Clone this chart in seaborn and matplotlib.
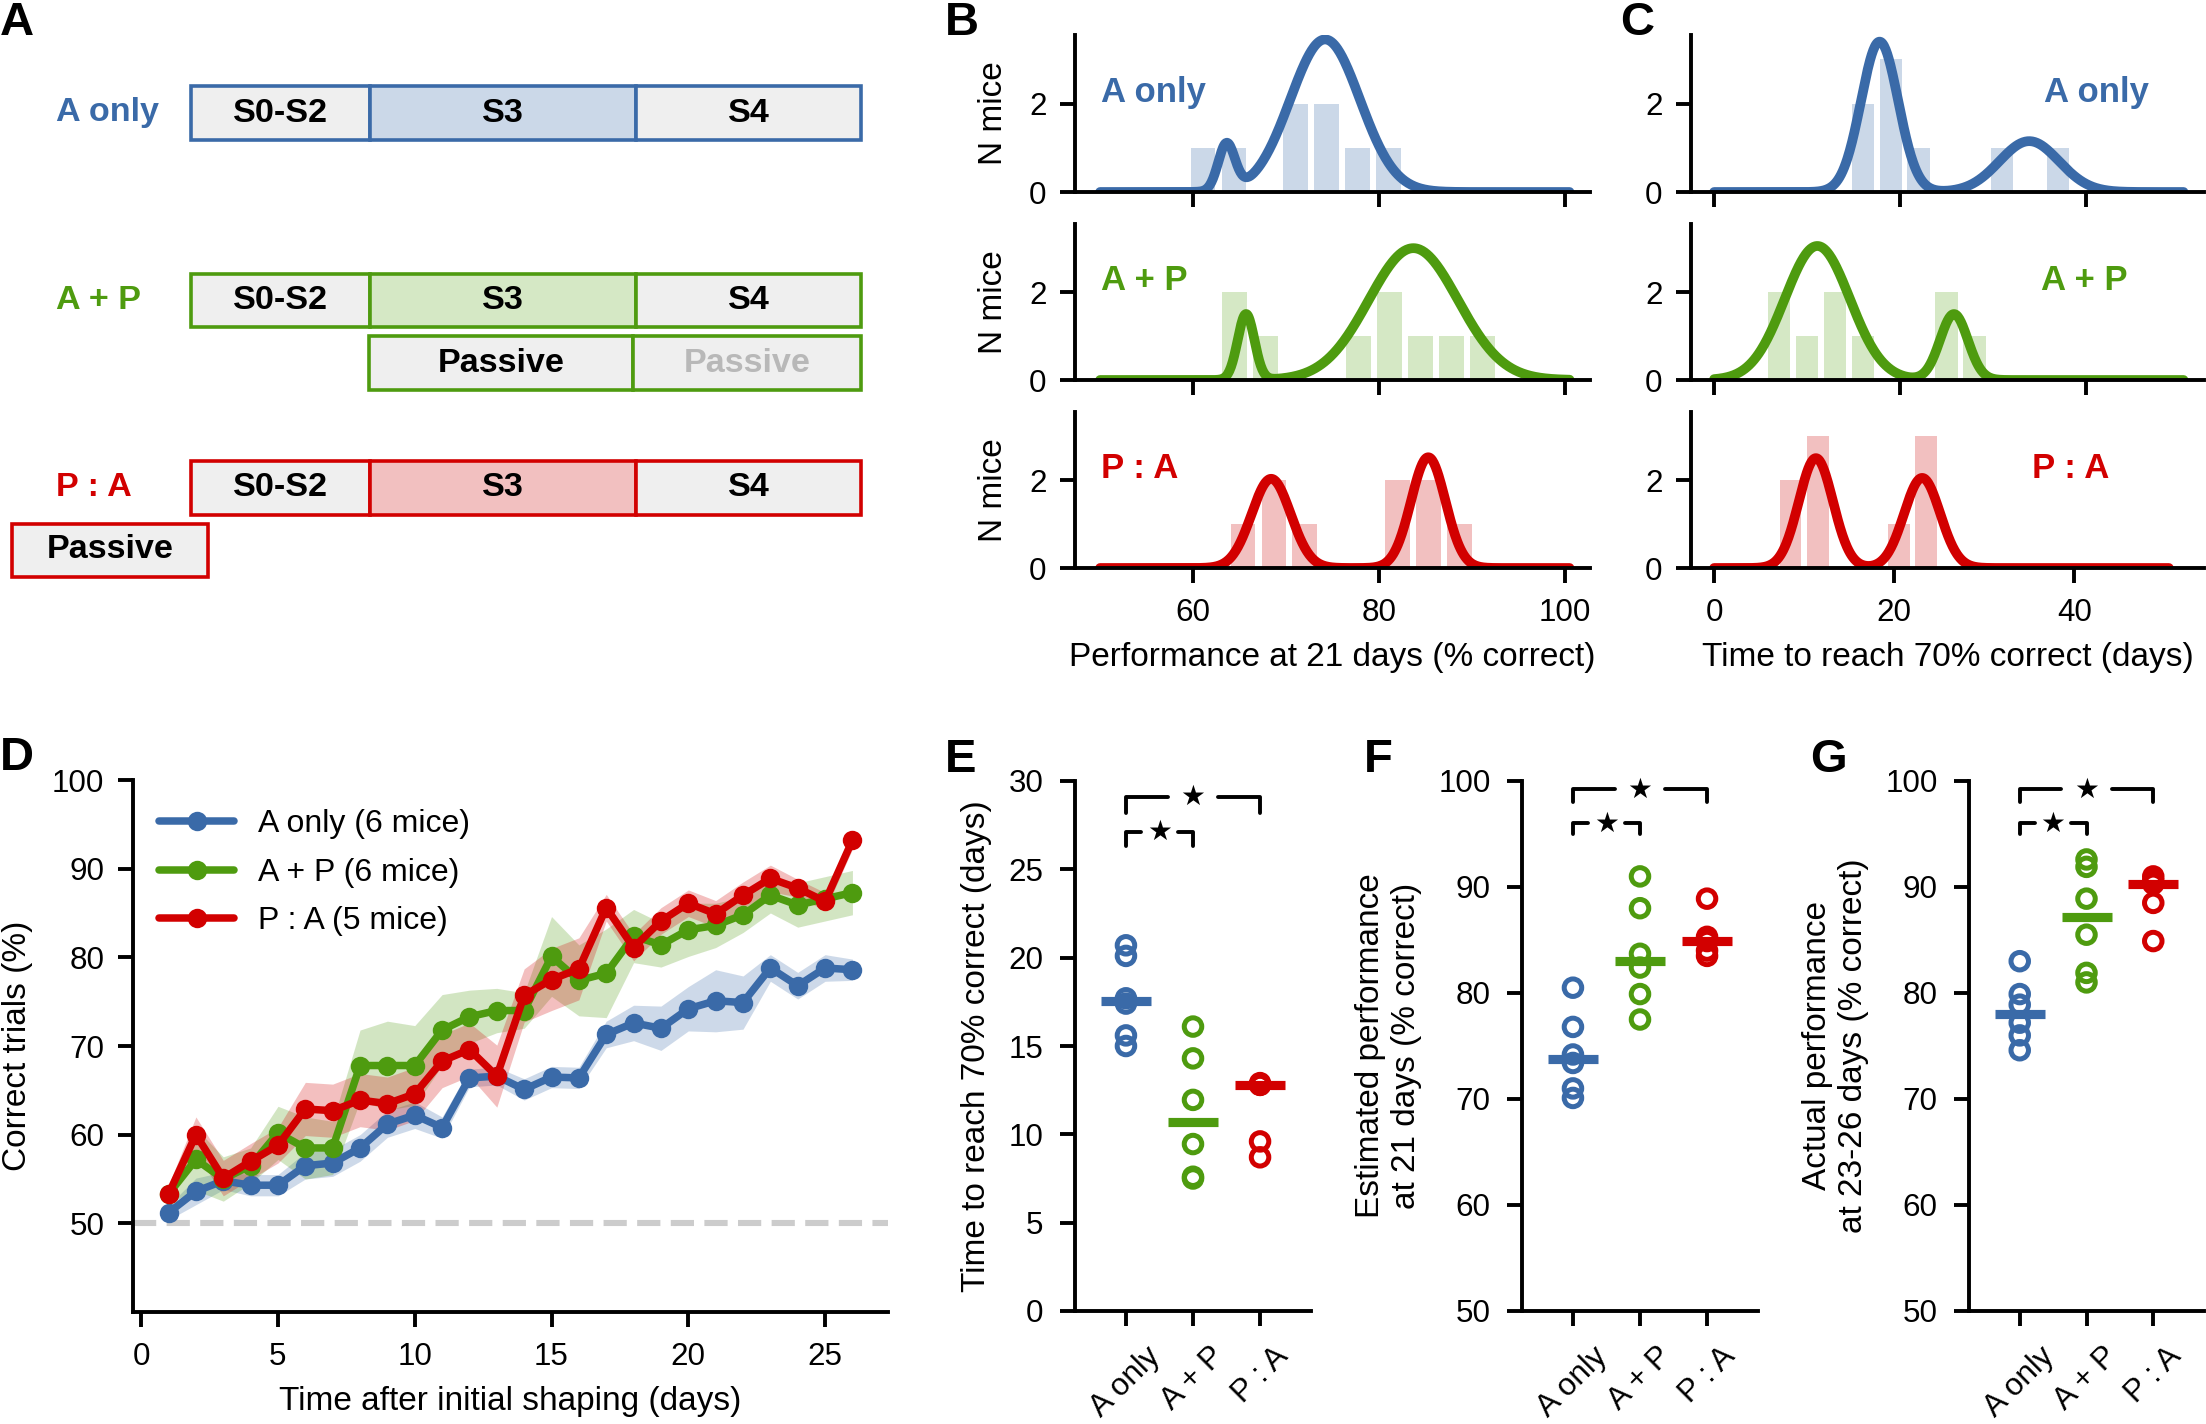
import numpy as np
import pandas as pd
import matplotlib
matplotlib.use("Agg")
import matplotlib.pyplot as plt
import seaborn as sns
from matplotlib.patches import Rectangle

W, H, DPI = 2206, 1424, 200

groups = ["A only", "A + P", "P : A"]
colors = ["#3a6aa8", "#4e9b0f", "#d20000"]
light = ["#cbd8e8", "#d5e8c5", "#f2c0c0"]

# B: performance at 21 days -- histogram counts (bin width 3.33) and fitted two-gaussian curves
perf_bin_start = [59.4, 62.8, 63.7]
perf_counts = [[1, 1, 0, 2, 2, 1, 1],
               [2, 1, 0, 0, 1, 2, 1, 1, 1],
               [1, 2, 1, 0, 0, 2, 2, 1]]
perf_peak_x = [[63.6, 74.2], [65.7, 83.7], [68.4, 85.3]]
perf_peak_h = [[1.05, 3.45], [1.5, 3.0], [2.03, 2.52]]
perf_peak_sd = [[0.9, 3.75], [0.9, 4.8], [2.1, 1.85]]

# C: time to reach 70% correct -- histogram counts (bin width 3) and fitted curves
time_bin_start = [14.5, 5.5, 7.0]
time_counts = [[2, 3, 1, 0, 0, 1, 0, 1],
               [2, 1, 2, 1, 0, 0, 2, 1],
               [2, 3, 0, 0, 1, 3]]
time_peak_x = [[17.8, 33.9], [11.1, 25.8], [11.3, 23.1]]
time_peak_h = [[3.4, 1.15], [3.05, 1.5], [2.5, 2.05]]
time_peak_sd = [[2.0, 3.2], [3.5, 1.5], [1.9, 2.0]]

# D: learning curves (mean and sem per day)
days = list(range(1, 27))
a_only_mean = [51.2, 53.6, 54.8, 54.3, 54.3, 56.5, 56.8, 58.5, 61.2, 62.2, 60.8, 66.4, 66.6,
               65.1, 66.5, 66.4, 71.3, 72.6, 72.0, 74.2, 75.1, 74.9, 78.8, 76.8, 78.8, 78.6]
a_only_sem = [0.8, 1.5, 1.0, 1.2, 1.2, 1.5, 1.5, 1.5, 1.5, 1.5, 1.2, 1.0, 1.0,
              1.2, 1.2, 1.2, 1.5, 2.0, 2.5, 2.5, 3.5, 3.0, 1.5, 1.5, 1.5, 1.2]
a_p_mean = [53.3, 57.2, 55.0, 56.5, 60.2, 58.5, 58.5, 67.8, 67.8, 67.8, 71.8, 73.3, 74.0,
            74.0, 80.1, 77.4, 78.2, 82.4, 81.4, 83.1, 83.6, 84.8, 87.0, 85.9, 86.6, 87.3]
a_p_sem = [1.0, 3.5, 2.5, 2.0, 3.0, 3.5, 3.0, 4.0, 5.0, 4.5, 4.0, 3.0, 2.5,
           2.0, 4.5, 4.0, 5.0, 3.0, 2.5, 3.0, 2.5, 2.0, 2.0, 2.5, 2.5, 2.5]
p_a_mean = [53.3, 60.0, 55.1, 57.0, 58.8, 62.9, 62.7, 63.9, 63.5, 64.6, 68.3, 69.6, 66.6,
            75.7, 77.5, 78.7, 85.6, 81.1, 84.1, 86.1, 84.9, 87.0, 88.9, 87.8, 86.3, 93.2]
p_a_sem = [1.0, 2.0, 2.0, 2.0, 2.0, 3.0, 3.0, 3.0, 3.0, 3.0, 3.0, 3.0, 3.5,
           3.0, 3.5, 3.5, 1.5, 1.5, 1.5, 1.5, 1.5, 1.5, 1.5, 1.0, 1.0, 1.0]
legend_labels = ["A only (6 mice)", "A + P (6 mice)", "P : A (5 mice)"]

# E, F, G: per-mouse values
time70 = [[20.7, 20.1, 17.7, 17.4, 15.6, 15.0],
          [16.1, 14.3, 11.95, 9.45, 7.6, 7.5],
          [12.9, 12.8, 12.8, 9.6, 8.7]]
est_perf = [[80.5, 76.8, 74.2, 73.4, 71.0, 70.1],
            [91.0, 88.0, 83.7, 82.4, 79.9, 77.5],
            [88.9, 85.3, 84.9, 84.0, 83.5]]
act_perf = [[83.0, 79.9, 78.9, 77.2, 76.0, 74.6],
            [92.6, 91.9, 88.9, 85.5, 81.9, 81.0],
            [91.0, 90.6, 90.3, 88.5, 84.9]]

sns.set_style("ticks")
plt.rcParams["font.family"] = ["Liberation Sans", "DejaVu Sans"]
plt.rcParams.update({
    "axes.linewidth": 1.4, "axes.edgecolor": "black",
    "xtick.major.width": 1.4, "ytick.major.width": 1.4,
    "xtick.major.size": 5.3, "ytick.major.size": 5.3,
    "xtick.major.pad": 5.5, "ytick.major.pad": 5.0,
    "xtick.color": "black", "ytick.color": "black",
    "xtick.labelsize": 11.3, "ytick.labelsize": 11.3,
    "axes.labelsize": 12, "axes.labelcolor": "black", "text.color": "black",
})

fig = plt.figure(figsize=(W / DPI, H / DPI), dpi=DPI)


def place(l, t, r, b):
    return fig.add_axes([l / W, 1 - b / H, (r - l) / W, (b - t) / H])


def mixture(grid, xs, hs, sds):
    return sum(h * np.exp(-0.5 * ((grid - m) / s) ** 2) for m, h, s in zip(xs, hs, sds))


# ---- panel A: training schedule diagram (pixel coordinates) ----
axA = place(0, 0, 900, 600)
axA.set_xlim(0, 900)
axA.set_ylim(600, 0)
axA.axis("off")

cell_x = [191, 370, 636, 861]
rows_y = [(86, 140), (274, 327), (461, 515)]
for gi, (t, b) in enumerate(rows_y):
    fills = ["#efefef", light[gi], "#efefef"]
    for ci, name in enumerate(["S0-S2", "S3", "S4"]):
        x0, x1 = cell_x[ci], cell_x[ci + 1]
        axA.add_patch(Rectangle((x0, t), x1 - x0, b - t, facecolor=fills[ci],
                                edgecolor=colors[gi], lw=1.3))
        axA.text((x0 + x1) / 2, (t + b) / 2, name, ha="center", va="center",
                 fontsize=12.3, fontweight="bold")
    axA.text(56, (t + b) / 2, groups[gi], ha="left", va="center", fontsize=12.3,
             fontweight="bold", color=colors[gi])

passive_x = [369, 633, 861]
for ci, tc in enumerate(["black", "#b8b8b8"]):
    x0, x1 = passive_x[ci], passive_x[ci + 1]
    axA.add_patch(Rectangle((x0, 336), x1 - x0, 54, facecolor="#efefef",
                            edgecolor=colors[1], lw=1.3))
    axA.text((x0 + x1) / 2, 363, "Passive", ha="center", va="center", fontsize=12.3,
             fontweight="bold", color=tc)
axA.add_patch(Rectangle((12, 524), 196, 53, facecolor="#efefef", edgecolor=colors[2], lw=1.3))
axA.text(110, 550, "Passive", ha="center", va="center", fontsize=12.3, fontweight="bold")

# ---- panels B and C: histograms + fits ----
rows_BC = [(35, 192), (224, 380), (412, 568)]
C_xlims = [(-2.49, 52.7), (-2.49, 52.7), (-2.57, 54.4)]


def hist_panel(ax, start, counts, width, px, ph, psd, grid, color, lcolor):
    hist = pd.DataFrame({"x": start + width * (np.arange(len(counts)) + 0.5),
                         "n": counts})
    sns.histplot(data=hist, x="x", weights="n", binwidth=width,
                 binrange=(start, start + width * len(counts)), shrink=0.8,
                 color=lcolor, alpha=1, linewidth=0, ax=ax)
    sns.lineplot(x=grid, y=mixture(grid, px, ph, psd), color=color, linewidth=3.5,
                 errorbar=None, ax=ax)
    ax.set_ylim(0, 3.55)
    ax.set_yticks([0, 2])
    sns.despine(ax=ax)


perf_grid = np.linspace(50, 100.5, 600)
time_grid = np.linspace(0, 50.5, 600)
for gi, (t, b) in enumerate(rows_BC):
    axb = place(1075, t, 1590, b)
    hist_panel(axb, perf_bin_start[gi], perf_counts[gi], 3.33, perf_peak_x[gi],
               perf_peak_h[gi], perf_peak_sd[gi], perf_grid, colors[gi], light[gi])
    axb.set_xlim(47.3, 102.7)
    axb.set_xticks([60, 80, 100])
    axb.set_ylabel("N mice", labelpad=7)
    axb.text(0.051, 0.636, groups[gi], transform=axb.transAxes, ha="left", va="center",
             fontsize=12.5, fontweight="bold", color=colors[gi])

    axc = place(1691, t, 2204, b)
    hist_panel(axc, time_bin_start[gi], time_counts[gi], 3.0, time_peak_x[gi],
               time_peak_h[gi], time_peak_sd[gi], time_grid, colors[gi], light[gi])
    axc.set_xlim(*C_xlims[gi])
    axc.set_xticks([0, 20, 40])
    axc.set_ylabel("")
    axc.text([0.893, 0.852, 0.815][gi], 0.636, groups[gi], transform=axc.transAxes,
             ha="right", va="center", fontsize=12.5, fontweight="bold", color=colors[gi])
    if gi < 2:
        axb.tick_params(labelbottom=False)
        axc.tick_params(labelbottom=False)
        axb.set_xlabel("")
        axc.set_xlabel("")
    else:
        axb.set_xlabel("Performance at 21 days (% correct)", labelpad=5)
        axc.set_xlabel("Time to reach 70% correct (days)", labelpad=5)

# ---- panel D: learning curves ----
axD = place(133, 780, 888, 1312)
axD.axhline(50, color="#cccccc", lw=2.2, ls=(0, (3.8, 1.7)), zorder=0)
series = [(a_only_mean, a_only_sem), (a_p_mean, a_p_sem), (p_a_mean, p_a_sem)]
for gi, (m, s) in enumerate(series):
    m = np.array(m)
    s = np.array(s)
    axD.fill_between(days, m - s, m + s, color=colors[gi], alpha=0.25, lw=0)
for gi, (m, s) in enumerate(series):
    sns.lineplot(x=days, y=m, color=colors[gi], linewidth=2.7, marker="o", markersize=7,
                 markeredgewidth=0, errorbar=None, label=legend_labels[gi], ax=axD)
axD.set_xlim(-0.3, 27.3)
axD.set_ylim(40, 100)
axD.set_yticks(range(50, 101, 10))
axD.set_xticks(range(0, 26, 5))
axD.set_xlabel("Time after initial shaping (days)", labelpad=5)
axD.set_ylabel("Correct trials (%)", labelpad=7)
axD.legend(loc="upper left", bbox_to_anchor=(0.035, 0.945), frameon=False, fontsize=11.5,
           handlelength=2.35, handletextpad=0.75, labelspacing=0.58, borderaxespad=0,
           borderpad=0)
sns.despine(ax=axD)

# ---- panels E, F, G: per-mouse scatter + medians ----


def bracket(ax, x0, x1, y, drop, gap):
    xm = (x0 + x1) / 2
    ax.plot([x0, x0, xm - gap], [y - drop, y, y], color="black", lw=1.4)
    ax.plot([xm + gap, x1, x1], [y, y, y - drop], color="black", lw=1.4)
    ax.text(xm, y, "\u2605", ha="center", va="center", fontsize=10, family=["DejaVu Sans"])


def dot_panel(ax, vals, ylim, yticks, ylabel, br):
    df = pd.DataFrame({"group": [groups[i] for i, v in enumerate(vals) for _ in v],
                       "value": [x for v in vals for x in v]})
    sns.stripplot(data=df, x="group", y="value", hue="group", palette=colors, size=6.3,
                  jitter=False, linewidth=0, legend=False, ax=ax)
    for coll in ax.collections:
        fc = coll.get_facecolors()
        coll.set_edgecolors(fc)
        coll.set_facecolors("none")
        coll.set_linewidths(1.8)
    sns.pointplot(data=df, x="group", y="value", hue="group", palette=colors,
                  estimator=np.median, errorbar=None, markers="_", linestyles="none",
                  markersize=18, markeredgewidth=3.3, legend=False, ax=ax)
    ax.set_ylim(*ylim)
    ax.set_yticks(yticks)
    ax.set_xlim(-0.76, 2.76)
    ax.set_xticks(range(3))
    ax.set_xticklabels(groups, rotation=45, ha="center")
    ax.tick_params(axis="y", pad=6)
    ax.set_xlabel("")
    ax.set_ylabel(ylabel, labelpad=6)
    (oy, od), (iy, idr) = br
    bracket(ax, 0, 2, oy, od, 0.38)
    bracket(ax, 0, 1, iy, idr, 0.27)
    sns.despine(ax=ax)


axE = place(1075, 781, 1311, 1311)
dot_panel(axE, time70, (0, 30), range(0, 31, 5), "Time to reach 70% correct (days)",
          [(29.1, 0.9), (27.1, 0.8)])
axF = place(1522, 781, 1758, 1311)
dot_panel(axF, est_perf, (50, 100), range(50, 101, 10),
          "Estimated performance\nat 21 days (% correct)", [(99.2, 1.2), (96.0, 1.0)])
axG = place(1969, 781, 2204, 1311)
dot_panel(axG, act_perf, (50, 100), range(50, 101, 10),
          "Actual performance\nat 23-26 days (% correct)", [(99.2, 1.2), (96.0, 1.0)])

# panel letters
for letter, x, y in [("A", 0, 1), ("B", 945, 1), ("C", 1620, 1), ("D", 0, 736),
                     ("E", 945, 738), ("F", 1364, 738), ("G", 1810, 738)]:
    fig.text(x / W, 1 - y / H, letter, ha="left", va="top", fontsize=17, fontweight="bold")

fig.savefig("out.png", dpi=DPI)
